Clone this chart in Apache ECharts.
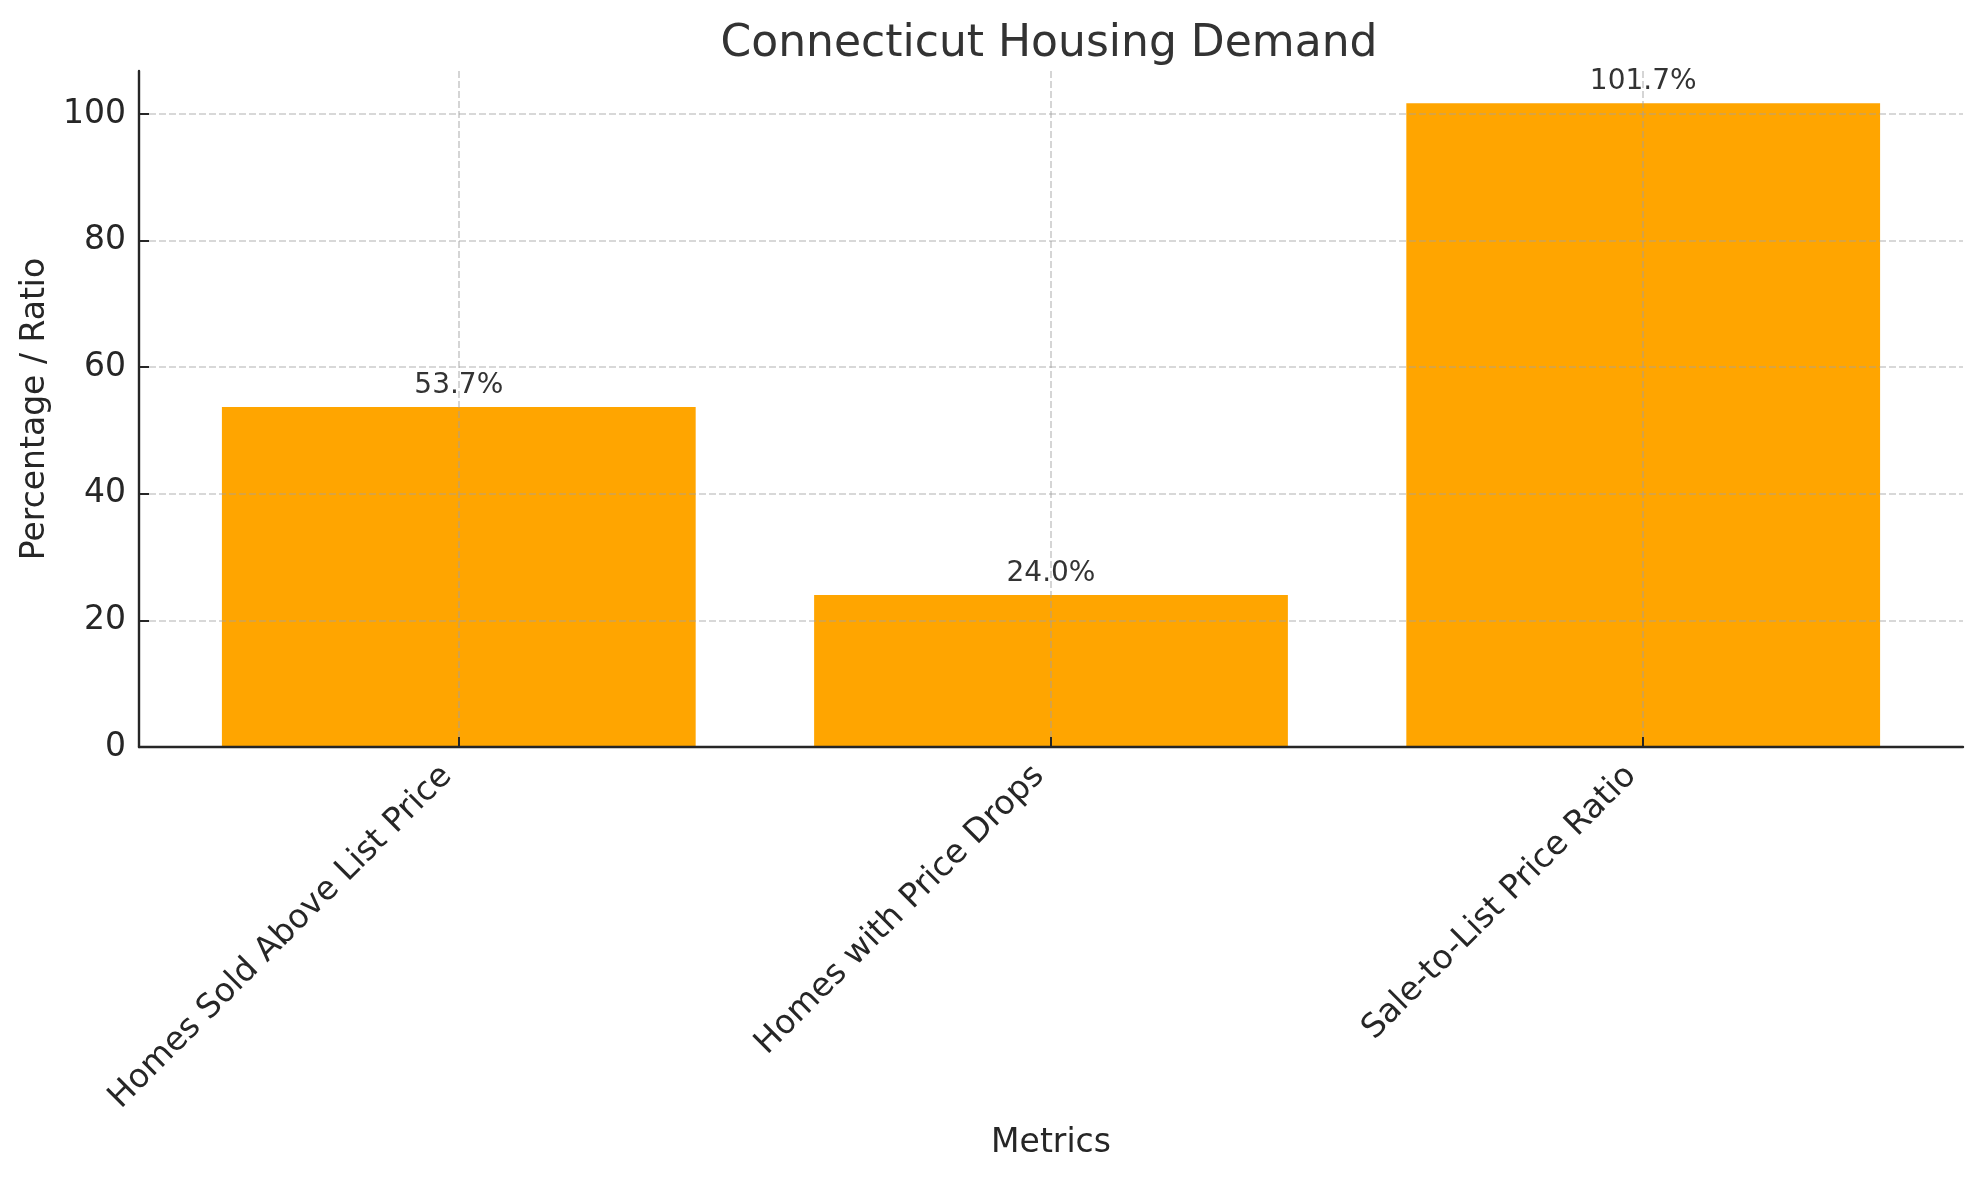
<!DOCTYPE html>
<html>
<head>
<meta charset="utf-8">
<script src="https://cdn.jsdelivr.net/npm/echarts@6/dist/echarts.min.js"></script>
<style>
html,body{margin:0;padding:0;background:#fff;}
#chart{width:1979px;height:1180px;}
</style>
</head>
<body>
<div id="chart"></div>
<script>
const categories = ["Homes Sold Above List Price", "Homes with Price Drops", "Sale-to-List Price Ratio"];
const values = [53.7, 24.0, 101.7];
const yTicks = [0, 20, 40, 60, 80, 100];

const FONT = "DejaVu Sans";
const GRID_COLOR = "rgba(160,160,160,0.55)";
const AXIS_COLOR = "#262626";

const catIndex = categories.map((c, i) => i);
const barData = values.map((v, i) => [i, v]);
const yMax = Math.max(...values) * 1.05;

const chart = echarts.init(document.getElementById('chart'), null, {renderer: 'canvas'});
chart.setOption({
  backgroundColor: '#ffffff',
  animation: false,
  title: {
    text: 'Connecticut Housing Demand',
    left: 1044, top: 18, textAlign: 'center',
    textStyle: {fontFamily: FONT, fontSize: 44, fontWeight: 'normal', color: '#333333'}
  },
  grid: {left: 139, right: 16, top: 71, bottom: 433, containLabel: false},
  xAxis: {
    type: 'value',
    min: -0.54, max: categories.length - 1 + 0.54,
    z: 5,
    name: 'Metrics',
    nameLocation: 'middle',
    nameGap: 380,
    nameTextStyle: {fontFamily: FONT, fontSize: 33, color: AXIS_COLOR, verticalAlign: 'top'},
    axisLine: {show: true, onZero: false, lineStyle: {color: AXIS_COLOR, width: 2.4}},
    axisTick: {show: true, inside: true, length: 10, customValues: catIndex, lineStyle: {color: AXIS_COLOR, width: 2}},
    axisLabel: {
      customValues: catIndex,
      rotate: 45, margin: 12,
      padding: [0, 17, 0, 0],
      fontFamily: FONT, fontSize: 33, color: AXIS_COLOR,
      formatter: v => categories[Math.round(v)] || ''
    },
    splitLine: {show: true, lineStyle: {color: GRID_COLOR, type: [7, 3], width: 1.6}}
  },
  yAxis: {
    type: 'value',
    min: 0, max: yMax,
    z: 5,
    name: 'Percentage / Ratio',
    nameLocation: 'middle',
    nameGap: 87,
    nameTextStyle: {fontFamily: FONT, fontSize: 33, color: AXIS_COLOR},
    axisLine: {show: true, onZero: false, lineStyle: {color: AXIS_COLOR, width: 2.4}},
    axisTick: {show: true, inside: true, length: 10, customValues: yTicks, lineStyle: {color: AXIS_COLOR, width: 2}},
    axisLabel: {customValues: yTicks, margin: 13, fontFamily: FONT, fontSize: 33, color: AXIS_COLOR},
    splitLine: {show: true, lineStyle: {color: GRID_COLOR, type: [7, 3], width: 1.6}}
  },
  series: [{
    type: 'bar',
    data: barData,
    barWidth: '80%',
    itemStyle: {color: '#FFA500'},
    label: {
      show: true, position: 'top', distance: 7,
      fontFamily: FONT, fontSize: 28, color: '#333333',
      formatter: p => p.value[1].toFixed(1) + '%'
    }
  }]
});
</script>
</body>
</html>
